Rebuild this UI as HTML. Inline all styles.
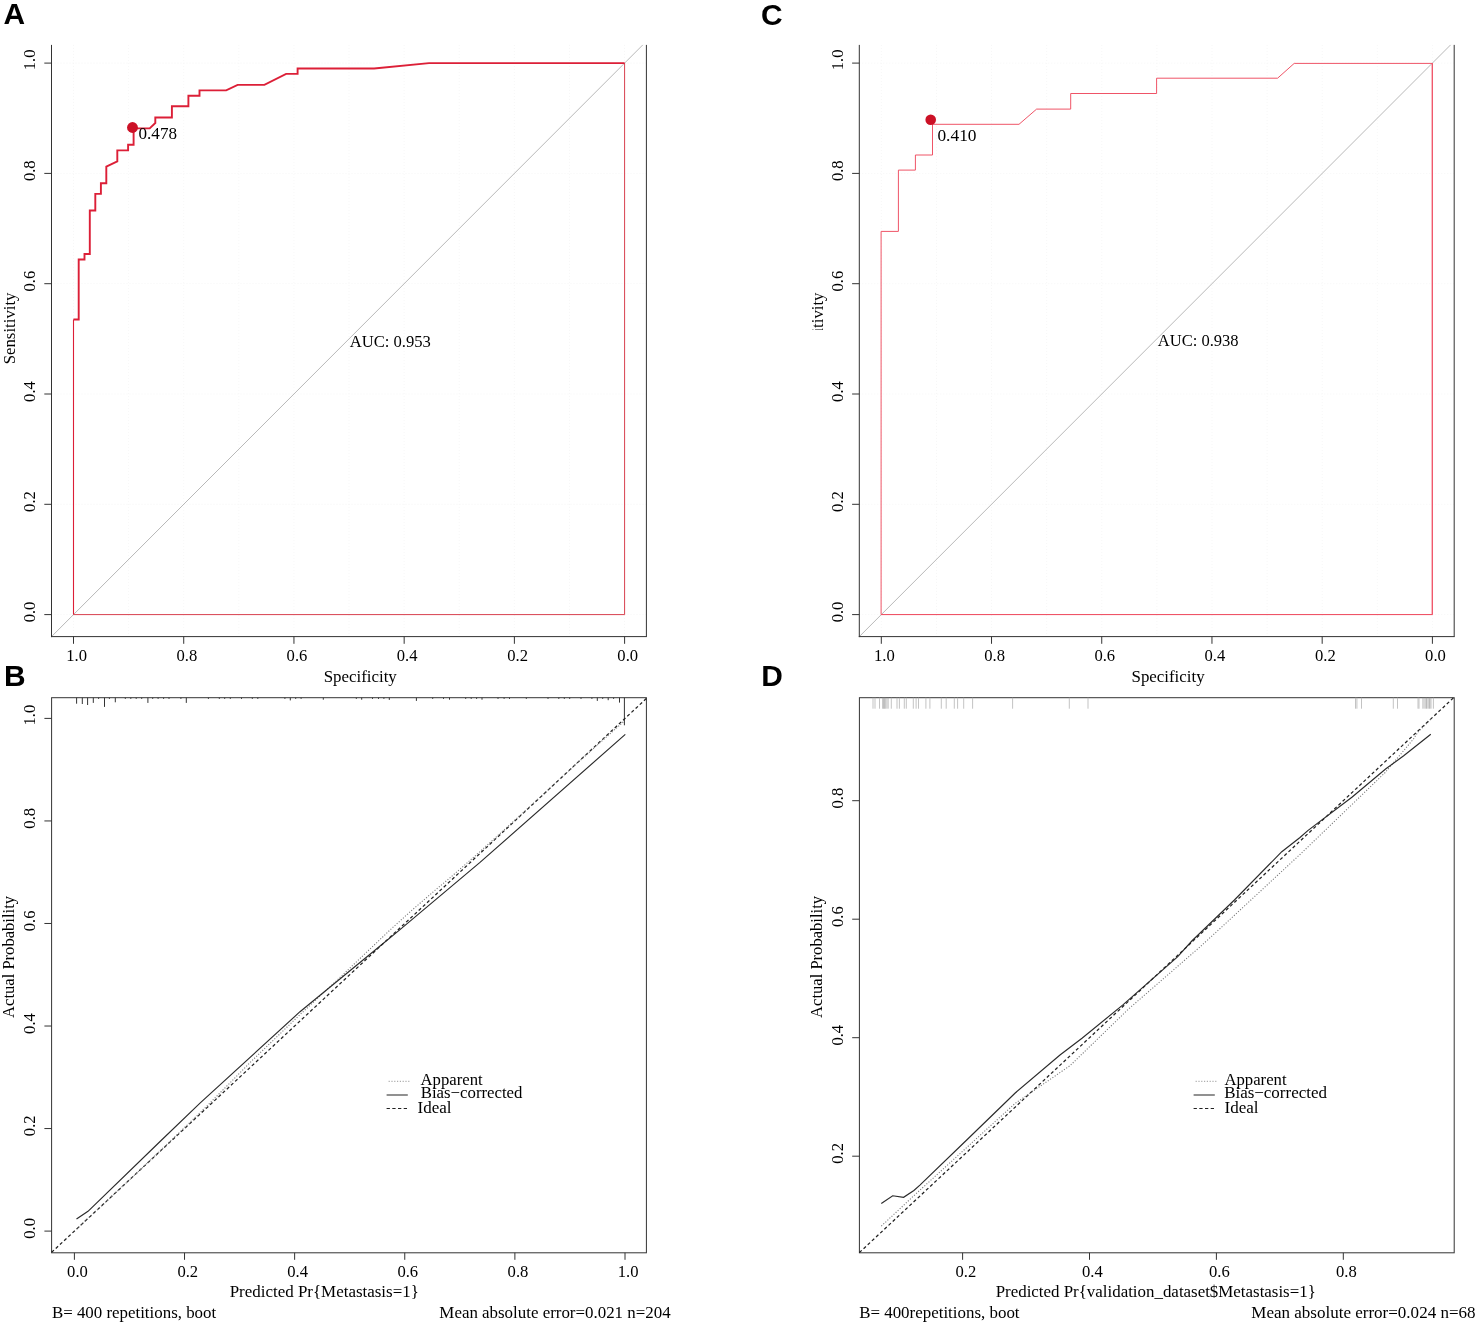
<!DOCTYPE html>
<html><head><meta charset="utf-8"><title>ROC and calibration curves</title><style>html,body{margin:0;padding:0;background:#fff;overflow:hidden}svg{display:block}</style></head><body>
<svg width="1476" height="1322" viewBox="0 0 1476 1322">
<rect x="0" y="0" width="1476" height="1322" fill="#fff"/>
<line x1="73.50" y1="44.90" x2="73.50" y2="636.60" stroke="#f6f6f6" stroke-width="1" stroke-dasharray="1 2"/>
<line x1="128.61" y1="44.90" x2="128.61" y2="636.60" stroke="#f6f6f6" stroke-width="1" stroke-dasharray="1 2"/>
<line x1="183.72" y1="44.90" x2="183.72" y2="636.60" stroke="#f6f6f6" stroke-width="1" stroke-dasharray="1 2"/>
<line x1="238.83" y1="44.90" x2="238.83" y2="636.60" stroke="#f6f6f6" stroke-width="1" stroke-dasharray="1 2"/>
<line x1="293.94" y1="44.90" x2="293.94" y2="636.60" stroke="#f6f6f6" stroke-width="1" stroke-dasharray="1 2"/>
<line x1="349.05" y1="44.90" x2="349.05" y2="636.60" stroke="#f6f6f6" stroke-width="1" stroke-dasharray="1 2"/>
<line x1="404.16" y1="44.90" x2="404.16" y2="636.60" stroke="#f6f6f6" stroke-width="1" stroke-dasharray="1 2"/>
<line x1="459.27" y1="44.90" x2="459.27" y2="636.60" stroke="#f6f6f6" stroke-width="1" stroke-dasharray="1 2"/>
<line x1="514.38" y1="44.90" x2="514.38" y2="636.60" stroke="#f6f6f6" stroke-width="1" stroke-dasharray="1 2"/>
<line x1="569.49" y1="44.90" x2="569.49" y2="636.60" stroke="#f6f6f6" stroke-width="1" stroke-dasharray="1 2"/>
<line x1="624.60" y1="44.90" x2="624.60" y2="636.60" stroke="#f6f6f6" stroke-width="1" stroke-dasharray="1 2"/>
<line x1="51.50" y1="614.60" x2="646.40" y2="614.60" stroke="#f6f6f6" stroke-width="1" stroke-dasharray="1 2"/>
<line x1="51.50" y1="504.30" x2="646.40" y2="504.30" stroke="#f6f6f6" stroke-width="1" stroke-dasharray="1 2"/>
<line x1="51.50" y1="394.00" x2="646.40" y2="394.00" stroke="#f6f6f6" stroke-width="1" stroke-dasharray="1 2"/>
<line x1="51.50" y1="283.70" x2="646.40" y2="283.70" stroke="#f6f6f6" stroke-width="1" stroke-dasharray="1 2"/>
<line x1="51.50" y1="173.40" x2="646.40" y2="173.40" stroke="#f6f6f6" stroke-width="1" stroke-dasharray="1 2"/>
<line x1="51.50" y1="63.10" x2="646.40" y2="63.10" stroke="#f6f6f6" stroke-width="1" stroke-dasharray="1 2"/>
<line x1="51.50" y1="636.62" x2="642.79" y2="44.90" stroke="#b8b8b8" stroke-width="1"/>
<path d="M73.50,614.60 L624.60,614.60 L624.60,63.10" fill="none" stroke="#d8404f" stroke-width="1" stroke-linejoin="miter"/>
<line x1="73.50" y1="614.60" x2="73.50" y2="319.50" stroke="#dc1f37" stroke-width="1.1"/>
<path d="M73.50,319.50 L78.70,319.50 L78.70,259.50 L84.50,259.50 L84.50,254.00 L89.80,254.00 L89.80,210.50 L95.30,210.50 L95.30,193.90 L100.90,193.90 L100.90,183.30 L106.30,183.30 L106.30,166.70 L117.30,161.30 L117.30,150.40 L128.10,150.40 L128.10,144.80 L133.60,144.80 L133.60,128.40 L149.70,128.40 L155.30,123.00 L155.30,117.50 L171.90,117.50 L171.90,106.30 L188.40,106.30 L188.40,95.70 L199.50,95.70 L199.50,90.40 L226.20,90.40 L237.60,84.90 L264.40,84.90 L286.10,73.90 L297.60,73.90 L297.60,68.50 L374.10,68.50 L429.00,63.10 L624.60,63.10" fill="none" stroke="#dc1f37" stroke-width="1.9" stroke-linejoin="miter"/>
<circle cx="132.50" cy="127.50" r="5.45" fill="#cc1126"/>
<line x1="51.50" y1="44.90" x2="51.50" y2="637.10" stroke="#333" stroke-width="1"/>
<line x1="51.00" y1="636.60" x2="646.90" y2="636.60" stroke="#333" stroke-width="1"/>
<line x1="646.40" y1="44.90" x2="646.40" y2="636.60" stroke="#333" stroke-width="1"/>
<line x1="44.30" y1="614.60" x2="51.50" y2="614.60" stroke="#333" stroke-width="1"/>
<text transform="translate(35.00,622.33) rotate(-90)" x="0" y="0" font-size="16.60px" font-family='"Liberation Serif","Times New Roman",serif' fill="#000">0.0</text>
<line x1="44.30" y1="504.30" x2="51.50" y2="504.30" stroke="#333" stroke-width="1"/>
<text transform="translate(35.00,511.88) rotate(-90)" x="0" y="0" font-size="16.60px" font-family='"Liberation Serif","Times New Roman",serif' fill="#000">0.2</text>
<line x1="44.30" y1="394.00" x2="51.50" y2="394.00" stroke="#333" stroke-width="1"/>
<text transform="translate(35.00,401.90) rotate(-90)" x="0" y="0" font-size="16.60px" font-family='"Liberation Serif","Times New Roman",serif' fill="#000">0.4</text>
<line x1="44.30" y1="283.70" x2="51.50" y2="283.70" stroke="#333" stroke-width="1"/>
<text transform="translate(35.00,291.50) rotate(-90)" x="0" y="0" font-size="16.60px" font-family='"Liberation Serif","Times New Roman",serif' fill="#000">0.6</text>
<line x1="44.30" y1="173.40" x2="51.50" y2="173.40" stroke="#333" stroke-width="1"/>
<text transform="translate(35.00,181.12) rotate(-90)" x="0" y="0" font-size="16.60px" font-family='"Liberation Serif","Times New Roman",serif' fill="#000">0.8</text>
<line x1="44.30" y1="63.10" x2="51.50" y2="63.10" stroke="#333" stroke-width="1"/>
<text transform="translate(35.00,70.20) rotate(-90)" x="0" y="0" font-size="16.60px" font-family='"Liberation Serif","Times New Roman",serif' fill="#000">1.0</text>
<line x1="624.60" y1="636.60" x2="624.60" y2="643.80" stroke="#333" stroke-width="1"/>
<text x="617.33" y="661.40" font-size="16.60px" font-family='"Liberation Serif","Times New Roman",serif' fill="#000">0.0</text>
<line x1="514.38" y1="636.60" x2="514.38" y2="643.80" stroke="#333" stroke-width="1"/>
<text x="507.26" y="661.40" font-size="16.60px" font-family='"Liberation Serif","Times New Roman",serif' fill="#000">0.2</text>
<line x1="404.16" y1="636.60" x2="404.16" y2="643.80" stroke="#333" stroke-width="1"/>
<text x="396.71" y="661.40" font-size="16.60px" font-family='"Liberation Serif","Times New Roman",serif' fill="#000">0.4</text>
<line x1="293.94" y1="636.60" x2="293.94" y2="643.80" stroke="#333" stroke-width="1"/>
<text x="286.59" y="661.40" font-size="16.60px" font-family='"Liberation Serif","Times New Roman",serif' fill="#000">0.6</text>
<line x1="183.72" y1="636.60" x2="183.72" y2="643.80" stroke="#333" stroke-width="1"/>
<text x="176.44" y="661.40" font-size="16.60px" font-family='"Liberation Serif","Times New Roman",serif' fill="#000">0.8</text>
<line x1="73.50" y1="636.60" x2="73.50" y2="643.80" stroke="#333" stroke-width="1"/>
<text x="66.20" y="661.40" font-size="16.60px" font-family='"Liberation Serif","Times New Roman",serif' fill="#000">1.0</text>
<text x="323.70" y="681.50" font-size="16.89px" font-family='"Liberation Serif","Times New Roman",serif' fill="#000">Specificity</text>
<text transform="translate(14.80,364.30) rotate(-90)" x="0" y="0" font-size="16.80px" font-family='"Liberation Serif","Times New Roman",serif' fill="#000">Sensitivity</text>
<text x="138.55" y="138.70" font-size="17.08px" font-family='"Liberation Serif","Times New Roman",serif' fill="#000">0.478</text>
<text x="349.65" y="346.80" font-size="16.64px" font-family='"Liberation Serif","Times New Roman",serif' fill="#000">AUC: 0.953</text>
<text x="3.40" y="24.00" font-size="29.90px" font-family='"Liberation Sans",Arial,sans-serif' font-weight="bold" fill="#000">A</text>
<line x1="881.30" y1="44.90" x2="881.30" y2="636.60" stroke="#f6f6f6" stroke-width="1" stroke-dasharray="1 2"/>
<line x1="936.41" y1="44.90" x2="936.41" y2="636.60" stroke="#f6f6f6" stroke-width="1" stroke-dasharray="1 2"/>
<line x1="991.52" y1="44.90" x2="991.52" y2="636.60" stroke="#f6f6f6" stroke-width="1" stroke-dasharray="1 2"/>
<line x1="1046.63" y1="44.90" x2="1046.63" y2="636.60" stroke="#f6f6f6" stroke-width="1" stroke-dasharray="1 2"/>
<line x1="1101.74" y1="44.90" x2="1101.74" y2="636.60" stroke="#f6f6f6" stroke-width="1" stroke-dasharray="1 2"/>
<line x1="1156.85" y1="44.90" x2="1156.85" y2="636.60" stroke="#f6f6f6" stroke-width="1" stroke-dasharray="1 2"/>
<line x1="1211.96" y1="44.90" x2="1211.96" y2="636.60" stroke="#f6f6f6" stroke-width="1" stroke-dasharray="1 2"/>
<line x1="1267.07" y1="44.90" x2="1267.07" y2="636.60" stroke="#f6f6f6" stroke-width="1" stroke-dasharray="1 2"/>
<line x1="1322.18" y1="44.90" x2="1322.18" y2="636.60" stroke="#f6f6f6" stroke-width="1" stroke-dasharray="1 2"/>
<line x1="1377.29" y1="44.90" x2="1377.29" y2="636.60" stroke="#f6f6f6" stroke-width="1" stroke-dasharray="1 2"/>
<line x1="1432.40" y1="44.90" x2="1432.40" y2="636.60" stroke="#f6f6f6" stroke-width="1" stroke-dasharray="1 2"/>
<line x1="859.30" y1="614.60" x2="1454.20" y2="614.60" stroke="#f6f6f6" stroke-width="1" stroke-dasharray="1 2"/>
<line x1="859.30" y1="504.30" x2="1454.20" y2="504.30" stroke="#f6f6f6" stroke-width="1" stroke-dasharray="1 2"/>
<line x1="859.30" y1="394.00" x2="1454.20" y2="394.00" stroke="#f6f6f6" stroke-width="1" stroke-dasharray="1 2"/>
<line x1="859.30" y1="283.70" x2="1454.20" y2="283.70" stroke="#f6f6f6" stroke-width="1" stroke-dasharray="1 2"/>
<line x1="859.30" y1="173.40" x2="1454.20" y2="173.40" stroke="#f6f6f6" stroke-width="1" stroke-dasharray="1 2"/>
<line x1="859.30" y1="63.10" x2="1454.20" y2="63.10" stroke="#f6f6f6" stroke-width="1" stroke-dasharray="1 2"/>
<line x1="859.30" y1="636.62" x2="1450.59" y2="44.90" stroke="#b8b8b8" stroke-width="1"/>
<path d="M881.30,614.60 L1432.40,614.60 L1432.40,63.10" fill="none" stroke="#ef5467" stroke-width="1" stroke-linejoin="miter"/>
<path d="M881.10,614.50 L881.10,231.40 L898.40,231.40 L898.40,170.10 L915.40,170.10 L915.40,155.00 L932.50,155.00 L932.50,124.30 L1019.00,124.30 L1036.60,109.10 L1070.70,109.10 L1070.70,93.50 L1156.60,93.50 L1156.60,78.20 L1277.60,78.20 L1294.20,63.40 L1432.20,63.40 L1432.20,614.50 L881.10,614.50" fill="none" stroke="#ef5467" stroke-width="1" stroke-linejoin="miter"/>
<circle cx="930.70" cy="119.80" r="5.30" fill="#cc1126"/>
<line x1="859.30" y1="44.90" x2="859.30" y2="637.10" stroke="#333" stroke-width="1"/>
<line x1="858.80" y1="636.60" x2="1454.70" y2="636.60" stroke="#333" stroke-width="1"/>
<line x1="1454.20" y1="44.90" x2="1454.20" y2="636.60" stroke="#333" stroke-width="1"/>
<line x1="852.10" y1="614.60" x2="859.30" y2="614.60" stroke="#333" stroke-width="1"/>
<text transform="translate(842.80,622.33) rotate(-90)" x="0" y="0" font-size="16.60px" font-family='"Liberation Serif","Times New Roman",serif' fill="#000">0.0</text>
<line x1="852.10" y1="504.30" x2="859.30" y2="504.30" stroke="#333" stroke-width="1"/>
<text transform="translate(842.80,511.88) rotate(-90)" x="0" y="0" font-size="16.60px" font-family='"Liberation Serif","Times New Roman",serif' fill="#000">0.2</text>
<line x1="852.10" y1="394.00" x2="859.30" y2="394.00" stroke="#333" stroke-width="1"/>
<text transform="translate(842.80,401.90) rotate(-90)" x="0" y="0" font-size="16.60px" font-family='"Liberation Serif","Times New Roman",serif' fill="#000">0.4</text>
<line x1="852.10" y1="283.70" x2="859.30" y2="283.70" stroke="#333" stroke-width="1"/>
<text transform="translate(842.80,291.50) rotate(-90)" x="0" y="0" font-size="16.60px" font-family='"Liberation Serif","Times New Roman",serif' fill="#000">0.6</text>
<line x1="852.10" y1="173.40" x2="859.30" y2="173.40" stroke="#333" stroke-width="1"/>
<text transform="translate(842.80,181.12) rotate(-90)" x="0" y="0" font-size="16.60px" font-family='"Liberation Serif","Times New Roman",serif' fill="#000">0.8</text>
<line x1="852.10" y1="63.10" x2="859.30" y2="63.10" stroke="#333" stroke-width="1"/>
<text transform="translate(842.80,70.20) rotate(-90)" x="0" y="0" font-size="16.60px" font-family='"Liberation Serif","Times New Roman",serif' fill="#000">1.0</text>
<line x1="1432.40" y1="636.60" x2="1432.40" y2="643.80" stroke="#333" stroke-width="1"/>
<text x="1425.12" y="661.40" font-size="16.60px" font-family='"Liberation Serif","Times New Roman",serif' fill="#000">0.0</text>
<line x1="1322.18" y1="636.60" x2="1322.18" y2="643.80" stroke="#333" stroke-width="1"/>
<text x="1315.06" y="661.40" font-size="16.60px" font-family='"Liberation Serif","Times New Roman",serif' fill="#000">0.2</text>
<line x1="1211.96" y1="636.60" x2="1211.96" y2="643.80" stroke="#333" stroke-width="1"/>
<text x="1204.51" y="661.40" font-size="16.60px" font-family='"Liberation Serif","Times New Roman",serif' fill="#000">0.4</text>
<line x1="1101.74" y1="636.60" x2="1101.74" y2="643.80" stroke="#333" stroke-width="1"/>
<text x="1094.39" y="661.40" font-size="16.60px" font-family='"Liberation Serif","Times New Roman",serif' fill="#000">0.6</text>
<line x1="991.52" y1="636.60" x2="991.52" y2="643.80" stroke="#333" stroke-width="1"/>
<text x="984.25" y="661.40" font-size="16.60px" font-family='"Liberation Serif","Times New Roman",serif' fill="#000">0.8</text>
<line x1="881.30" y1="636.60" x2="881.30" y2="643.80" stroke="#333" stroke-width="1"/>
<text x="874.00" y="661.40" font-size="16.60px" font-family='"Liberation Serif","Times New Roman",serif' fill="#000">1.0</text>
<text x="1131.50" y="681.50" font-size="16.89px" font-family='"Liberation Serif","Times New Roman",serif' fill="#000">Specificity</text>
<clipPath id="csC"><rect x="807.8" y="0" width="50" height="330"/></clipPath>
<g clip-path="url(#csC)">
<text transform="translate(822.60,364.30) rotate(-90)" x="0" y="0" font-size="16.80px" font-family='"Liberation Serif","Times New Roman",serif' fill="#000">Sensitivity</text>
</g>
<text x="937.45" y="140.60" font-size="17.36px" font-family='"Liberation Serif","Times New Roman",serif' fill="#000">0.410</text>
<text x="1157.75" y="346.40" font-size="16.54px" font-family='"Liberation Serif","Times New Roman",serif' fill="#000">AUC: 0.938</text>
<text x="761.10" y="24.70" font-size="29.90px" font-family='"Liberation Sans",Arial,sans-serif' font-weight="bold" fill="#000">C</text>
<rect x="51.60" y="697.70" width="594.80" height="555.10" fill="none" stroke="#333" stroke-width="1"/>
<line x1="76.60" y1="697.70" x2="76.60" y2="703.70" stroke="#333" stroke-width="1"/>
<line x1="82.30" y1="697.70" x2="82.30" y2="704.00" stroke="#333" stroke-width="1"/>
<line x1="87.60" y1="697.70" x2="87.60" y2="705.00" stroke="#333" stroke-width="1"/>
<line x1="93.30" y1="697.70" x2="93.30" y2="702.90" stroke="#333" stroke-width="1"/>
<line x1="98.60" y1="697.70" x2="98.60" y2="698.90" stroke="#333" stroke-width="1"/>
<line x1="104.50" y1="697.70" x2="104.50" y2="706.90" stroke="#333" stroke-width="1"/>
<line x1="109.40" y1="697.70" x2="109.40" y2="698.90" stroke="#333" stroke-width="1"/>
<line x1="115.30" y1="697.70" x2="115.30" y2="702.30" stroke="#333" stroke-width="1"/>
<line x1="125.30" y1="697.70" x2="125.30" y2="698.90" stroke="#333" stroke-width="1"/>
<line x1="130.80" y1="697.70" x2="130.80" y2="698.90" stroke="#333" stroke-width="1"/>
<line x1="136.20" y1="697.70" x2="136.20" y2="698.90" stroke="#333" stroke-width="1"/>
<line x1="141.70" y1="697.70" x2="141.70" y2="698.90" stroke="#333" stroke-width="1"/>
<line x1="147.90" y1="697.70" x2="147.90" y2="702.90" stroke="#333" stroke-width="1"/>
<line x1="152.70" y1="697.70" x2="152.70" y2="698.90" stroke="#333" stroke-width="1"/>
<line x1="158.10" y1="697.70" x2="158.10" y2="698.90" stroke="#333" stroke-width="1"/>
<line x1="163.60" y1="697.70" x2="163.60" y2="698.90" stroke="#333" stroke-width="1"/>
<line x1="169.00" y1="697.70" x2="169.00" y2="698.90" stroke="#333" stroke-width="1"/>
<line x1="180.90" y1="697.70" x2="180.90" y2="698.90" stroke="#333" stroke-width="1"/>
<line x1="186.30" y1="697.70" x2="186.30" y2="702.90" stroke="#333" stroke-width="1"/>
<line x1="208.40" y1="697.70" x2="208.40" y2="698.90" stroke="#333" stroke-width="1"/>
<line x1="219.30" y1="697.70" x2="219.30" y2="698.90" stroke="#333" stroke-width="1"/>
<line x1="224.70" y1="697.70" x2="224.70" y2="698.90" stroke="#333" stroke-width="1"/>
<line x1="230.30" y1="697.70" x2="230.30" y2="698.90" stroke="#333" stroke-width="1"/>
<line x1="241.50" y1="697.70" x2="241.50" y2="698.90" stroke="#333" stroke-width="1"/>
<line x1="252.30" y1="697.70" x2="252.30" y2="698.90" stroke="#333" stroke-width="1"/>
<line x1="257.80" y1="697.70" x2="257.80" y2="698.90" stroke="#333" stroke-width="1"/>
<line x1="284.90" y1="697.70" x2="284.90" y2="698.90" stroke="#333" stroke-width="1"/>
<line x1="290.30" y1="697.70" x2="290.30" y2="700.40" stroke="#333" stroke-width="1"/>
<line x1="295.70" y1="697.70" x2="295.70" y2="698.90" stroke="#333" stroke-width="1"/>
<line x1="301.10" y1="697.70" x2="301.10" y2="698.90" stroke="#333" stroke-width="1"/>
<line x1="323.30" y1="697.70" x2="323.30" y2="699.70" stroke="#333" stroke-width="1"/>
<line x1="356.30" y1="697.70" x2="356.30" y2="698.90" stroke="#333" stroke-width="1"/>
<line x1="361.70" y1="697.70" x2="361.70" y2="699.70" stroke="#333" stroke-width="1"/>
<line x1="372.50" y1="697.70" x2="372.50" y2="698.90" stroke="#333" stroke-width="1"/>
<line x1="378.50" y1="697.70" x2="378.50" y2="698.90" stroke="#333" stroke-width="1"/>
<line x1="383.90" y1="697.70" x2="383.90" y2="698.90" stroke="#333" stroke-width="1"/>
<line x1="389.30" y1="697.70" x2="389.30" y2="699.90" stroke="#333" stroke-width="1"/>
<line x1="416.40" y1="697.70" x2="416.40" y2="700.90" stroke="#333" stroke-width="1"/>
<line x1="432.70" y1="697.70" x2="432.70" y2="698.90" stroke="#333" stroke-width="1"/>
<line x1="443.50" y1="697.70" x2="443.50" y2="698.90" stroke="#333" stroke-width="1"/>
<line x1="449.50" y1="697.70" x2="449.50" y2="699.70" stroke="#333" stroke-width="1"/>
<line x1="465.70" y1="697.70" x2="465.70" y2="698.90" stroke="#333" stroke-width="1"/>
<line x1="471.20" y1="697.70" x2="471.20" y2="698.90" stroke="#333" stroke-width="1"/>
<line x1="476.60" y1="697.70" x2="476.60" y2="698.90" stroke="#333" stroke-width="1"/>
<line x1="482.00" y1="697.70" x2="482.00" y2="699.70" stroke="#333" stroke-width="1"/>
<line x1="498.00" y1="697.70" x2="498.00" y2="698.90" stroke="#333" stroke-width="1"/>
<line x1="504.10" y1="697.70" x2="504.10" y2="698.90" stroke="#333" stroke-width="1"/>
<line x1="509.50" y1="697.70" x2="509.50" y2="698.90" stroke="#333" stroke-width="1"/>
<line x1="526.30" y1="697.70" x2="526.30" y2="698.90" stroke="#333" stroke-width="1"/>
<line x1="548.00" y1="697.70" x2="548.00" y2="698.90" stroke="#333" stroke-width="1"/>
<line x1="558.80" y1="697.70" x2="558.80" y2="698.90" stroke="#333" stroke-width="1"/>
<line x1="564.30" y1="697.70" x2="564.30" y2="698.90" stroke="#333" stroke-width="1"/>
<line x1="569.70" y1="697.70" x2="569.70" y2="698.90" stroke="#333" stroke-width="1"/>
<line x1="581.00" y1="697.70" x2="581.00" y2="698.90" stroke="#333" stroke-width="1"/>
<line x1="591.90" y1="697.70" x2="591.90" y2="698.90" stroke="#333" stroke-width="1"/>
<line x1="597.30" y1="697.70" x2="597.30" y2="700.90" stroke="#333" stroke-width="1"/>
<line x1="602.70" y1="697.70" x2="602.70" y2="698.90" stroke="#333" stroke-width="1"/>
<line x1="608.20" y1="697.70" x2="608.20" y2="700.20" stroke="#333" stroke-width="1"/>
<line x1="613.60" y1="697.70" x2="613.60" y2="698.90" stroke="#333" stroke-width="1"/>
<line x1="619.50" y1="697.70" x2="619.50" y2="702.60" stroke="#333" stroke-width="1"/>
<line x1="624.40" y1="697.70" x2="624.40" y2="725.30" stroke="#333" stroke-width="1"/>
<line x1="51.60" y1="1252.33" x2="646.40" y2="698.47" stroke="#222" stroke-width="1.25" stroke-dasharray="3.2 2.5"/>
<path d="M76.50,1229.14 L140.00,1170.02 L180.00,1131.97 L210.00,1103.03 L250.00,1062.59 L300.00,1014.63 L340.00,977.48 L390.00,930.02 L412.00,910.14 L435.00,890.32 L449.00,878.69 L475.00,856.07 L500.00,833.60 L550.00,788.24 L575.00,764.96 L600.00,742.68 L624.40,720.96" fill="none" stroke="#7a7a7a" stroke-width="1.1" stroke-linejoin="miter" stroke-dasharray="1.1 1.7"/>
<path d="M76.50,1219.10 L88.00,1211.30 L161.10,1140.50 L200.00,1103.20 L300.00,1011.70 L381.30,945.00 L400.00,929.60 L480.00,862.40 L625.30,734.40" fill="none" stroke="#2a2a2a" stroke-width="1.15" stroke-linejoin="miter"/>
<line x1="74.40" y1="1252.80" x2="74.40" y2="1259.80" stroke="#333" stroke-width="1"/>
<text x="67.12" y="1277.40" font-size="16.60px" font-family='"Liberation Serif","Times New Roman",serif' fill="#000">0.0</text>
<line x1="184.52" y1="1252.80" x2="184.52" y2="1259.80" stroke="#333" stroke-width="1"/>
<text x="177.40" y="1277.40" font-size="16.60px" font-family='"Liberation Serif","Times New Roman",serif' fill="#000">0.2</text>
<line x1="294.64" y1="1252.80" x2="294.64" y2="1259.80" stroke="#333" stroke-width="1"/>
<text x="287.19" y="1277.40" font-size="16.60px" font-family='"Liberation Serif","Times New Roman",serif' fill="#000">0.4</text>
<line x1="404.76" y1="1252.80" x2="404.76" y2="1259.80" stroke="#333" stroke-width="1"/>
<text x="397.41" y="1277.40" font-size="16.60px" font-family='"Liberation Serif","Times New Roman",serif' fill="#000">0.6</text>
<line x1="514.88" y1="1252.80" x2="514.88" y2="1259.80" stroke="#333" stroke-width="1"/>
<text x="507.61" y="1277.40" font-size="16.60px" font-family='"Liberation Serif","Times New Roman",serif' fill="#000">0.8</text>
<line x1="625.00" y1="1252.80" x2="625.00" y2="1259.80" stroke="#333" stroke-width="1"/>
<text x="617.70" y="1277.40" font-size="16.60px" font-family='"Liberation Serif","Times New Roman",serif' fill="#000">1.0</text>
<line x1="44.40" y1="1231.10" x2="51.60" y2="1231.10" stroke="#333" stroke-width="1"/>
<text transform="translate(35.00,1238.82) rotate(-90)" x="0" y="0" font-size="16.60px" font-family='"Liberation Serif","Times New Roman",serif' fill="#000">0.0</text>
<line x1="44.40" y1="1128.56" x2="51.60" y2="1128.56" stroke="#333" stroke-width="1"/>
<text transform="translate(35.00,1136.13) rotate(-90)" x="0" y="0" font-size="16.60px" font-family='"Liberation Serif","Times New Roman",serif' fill="#000">0.2</text>
<line x1="44.40" y1="1026.02" x2="51.60" y2="1026.02" stroke="#333" stroke-width="1"/>
<text transform="translate(35.00,1033.92) rotate(-90)" x="0" y="0" font-size="16.60px" font-family='"Liberation Serif","Times New Roman",serif' fill="#000">0.4</text>
<line x1="44.40" y1="923.48" x2="51.60" y2="923.48" stroke="#333" stroke-width="1"/>
<text transform="translate(35.00,931.28) rotate(-90)" x="0" y="0" font-size="16.60px" font-family='"Liberation Serif","Times New Roman",serif' fill="#000">0.6</text>
<line x1="44.40" y1="820.94" x2="51.60" y2="820.94" stroke="#333" stroke-width="1"/>
<text transform="translate(35.00,828.66) rotate(-90)" x="0" y="0" font-size="16.60px" font-family='"Liberation Serif","Times New Roman",serif' fill="#000">0.8</text>
<line x1="44.40" y1="718.40" x2="51.60" y2="718.40" stroke="#333" stroke-width="1"/>
<text transform="translate(35.00,725.50) rotate(-90)" x="0" y="0" font-size="16.60px" font-family='"Liberation Serif","Times New Roman",serif' fill="#000">1.0</text>
<text transform="translate(14.30,1017.95) rotate(-90)" x="0" y="0" font-size="16.59px" font-family='"Liberation Serif","Times New Roman",serif' fill="#000">Actual Probability</text>
<text x="229.65" y="1297.40" font-size="16.97px" font-family='"Liberation Serif","Times New Roman",serif' fill="#000">Predicted Pr{Metastasis=1}</text>
<text x="51.95" y="1317.60" font-size="16.89px" font-family='"Liberation Serif","Times New Roman",serif' fill="#000">B= 400 repetitions, boot</text>
<text x="439.35" y="1317.60" font-size="16.92px" font-family='"Liberation Serif","Times New Roman",serif' fill="#000">Mean absolute error=0.021 n=204</text>
<text x="420.55" y="1085.30" font-size="16.69px" font-family='"Liberation Serif","Times New Roman",serif' fill="#000">Apparent</text>
<text x="420.75" y="1098.40" font-size="16.79px" font-family='"Liberation Serif","Times New Roman",serif' fill="#000">Bias−corrected</text>
<text x="417.50" y="1112.60" font-size="16.99px" font-family='"Liberation Serif","Times New Roman",serif' fill="#000">Ideal</text>
<line x1="388.60" y1="1081.30" x2="409.60" y2="1081.30" stroke="#999" stroke-width="1" stroke-dasharray="1.2 1.6"/>
<line x1="386.60" y1="1095.00" x2="407.80" y2="1095.00" stroke="#555" stroke-width="1.3"/>
<line x1="386.60" y1="1108.50" x2="407.10" y2="1108.50" stroke="#222" stroke-width="1" stroke-dasharray="3.3 2.4"/>
<text x="3.90" y="686.20" font-size="29.90px" font-family='"Liberation Sans",Arial,sans-serif' font-weight="bold" fill="#000">B</text>
<rect x="859.40" y="697.70" width="594.80" height="555.10" fill="none" stroke="#333" stroke-width="1"/>
<line x1="873.00" y1="697.70" x2="873.00" y2="708.70" stroke="#b4b4b4" stroke-width="0.8"/>
<line x1="875.00" y1="697.70" x2="875.00" y2="708.70" stroke="#b4b4b4" stroke-width="0.8"/>
<line x1="879.50" y1="697.70" x2="879.50" y2="708.70" stroke="#b4b4b4" stroke-width="0.8"/>
<line x1="882.80" y1="697.70" x2="882.80" y2="708.70" stroke="#a0a0a0" stroke-width="0.8"/>
<line x1="883.80" y1="697.70" x2="883.80" y2="708.70" stroke="#a0a0a0" stroke-width="0.8"/>
<line x1="884.80" y1="697.70" x2="884.80" y2="708.70" stroke="#a0a0a0" stroke-width="0.8"/>
<line x1="886.00" y1="697.70" x2="886.00" y2="708.70" stroke="#a0a0a0" stroke-width="0.8"/>
<line x1="888.00" y1="697.70" x2="888.00" y2="708.70" stroke="#a0a0a0" stroke-width="0.8"/>
<line x1="891.30" y1="697.70" x2="891.30" y2="708.70" stroke="#b4b4b4" stroke-width="0.8"/>
<line x1="897.00" y1="697.70" x2="897.00" y2="708.70" stroke="#b4b4b4" stroke-width="0.8"/>
<line x1="899.40" y1="697.70" x2="899.40" y2="708.70" stroke="#b4b4b4" stroke-width="0.8"/>
<line x1="904.30" y1="697.70" x2="904.30" y2="708.70" stroke="#b4b4b4" stroke-width="0.8"/>
<line x1="906.30" y1="697.70" x2="906.30" y2="708.70" stroke="#b4b4b4" stroke-width="0.8"/>
<line x1="913.30" y1="697.70" x2="913.30" y2="708.70" stroke="#b4b4b4" stroke-width="0.8"/>
<line x1="916.10" y1="697.70" x2="916.10" y2="708.70" stroke="#b4b4b4" stroke-width="0.8"/>
<line x1="918.50" y1="697.70" x2="918.50" y2="708.70" stroke="#b4b4b4" stroke-width="0.8"/>
<line x1="925.90" y1="697.70" x2="925.90" y2="708.70" stroke="#b4b4b4" stroke-width="0.8"/>
<line x1="929.90" y1="697.70" x2="929.90" y2="708.70" stroke="#b4b4b4" stroke-width="0.8"/>
<line x1="941.30" y1="697.70" x2="941.30" y2="708.70" stroke="#b4b4b4" stroke-width="0.8"/>
<line x1="946.20" y1="697.70" x2="946.20" y2="708.70" stroke="#b4b4b4" stroke-width="0.8"/>
<line x1="954.30" y1="697.70" x2="954.30" y2="708.70" stroke="#b4b4b4" stroke-width="0.8"/>
<line x1="957.60" y1="697.70" x2="957.60" y2="708.70" stroke="#b4b4b4" stroke-width="0.8"/>
<line x1="963.70" y1="697.70" x2="963.70" y2="708.70" stroke="#b4b4b4" stroke-width="0.8"/>
<line x1="972.60" y1="697.70" x2="972.60" y2="708.70" stroke="#b4b4b4" stroke-width="0.8"/>
<line x1="1012.60" y1="697.70" x2="1012.60" y2="708.70" stroke="#b4b4b4" stroke-width="0.8"/>
<line x1="1069.30" y1="697.70" x2="1069.30" y2="708.70" stroke="#b4b4b4" stroke-width="0.8"/>
<line x1="1088.00" y1="697.70" x2="1088.00" y2="708.70" stroke="#b4b4b4" stroke-width="0.8"/>
<line x1="1355.50" y1="697.70" x2="1355.50" y2="708.70" stroke="#b4b4b4" stroke-width="0.8"/>
<line x1="1356.90" y1="697.70" x2="1356.90" y2="708.70" stroke="#b4b4b4" stroke-width="0.8"/>
<line x1="1361.50" y1="697.70" x2="1361.50" y2="708.70" stroke="#b4b4b4" stroke-width="0.8"/>
<line x1="1393.30" y1="697.70" x2="1393.30" y2="708.70" stroke="#b4b4b4" stroke-width="0.8"/>
<line x1="1397.50" y1="697.70" x2="1397.50" y2="708.70" stroke="#b4b4b4" stroke-width="0.8"/>
<line x1="1418.00" y1="697.70" x2="1418.00" y2="708.70" stroke="#b4b4b4" stroke-width="0.8"/>
<line x1="1419.00" y1="697.70" x2="1419.00" y2="708.70" stroke="#b4b4b4" stroke-width="0.8"/>
<line x1="1423.00" y1="697.70" x2="1423.00" y2="708.70" stroke="#a0a0a0" stroke-width="0.8"/>
<line x1="1425.00" y1="697.70" x2="1425.00" y2="708.70" stroke="#a0a0a0" stroke-width="0.8"/>
<line x1="1426.40" y1="697.70" x2="1426.40" y2="708.70" stroke="#a0a0a0" stroke-width="0.8"/>
<line x1="1428.00" y1="697.70" x2="1428.00" y2="708.70" stroke="#a0a0a0" stroke-width="0.8"/>
<line x1="1429.40" y1="697.70" x2="1429.40" y2="708.70" stroke="#a0a0a0" stroke-width="0.8"/>
<line x1="1430.90" y1="697.70" x2="1430.90" y2="708.70" stroke="#a0a0a0" stroke-width="0.8"/>
<line x1="1433.40" y1="697.70" x2="1433.40" y2="708.70" stroke="#b4b4b4" stroke-width="0.8"/>
<line x1="859.40" y1="1252.57" x2="1453.60" y2="697.70" stroke="#222" stroke-width="1.25" stroke-dasharray="3.2 2.5"/>
<path d="M881.30,1226.10 L915.40,1194.30 L1015.00,1103.50 L1070.00,1065.70 L1128.80,1008.80 L1200.00,946.90 L1230.00,919.40 L1300.00,854.50 L1384.70,773.00 L1402.30,752.30 L1413.30,739.20 L1418.00,732.00 L1431.00,719.00" fill="none" stroke="#7a7a7a" stroke-width="1.1" stroke-linejoin="miter" stroke-dasharray="1.1 1.7"/>
<path d="M881.30,1203.40 L892.70,1195.80 L903.60,1197.30 L913.90,1190.50 L919.90,1185.20 L966.70,1140.00 L1015.20,1093.00 L1060.00,1055.00 L1082.00,1038.20 L1122.90,1004.90 L1177.50,956.90 L1191.80,941.00 L1234.40,900.00 L1281.80,851.70 L1300.00,837.50 L1307.80,830.60 L1351.90,797.30 L1385.90,768.80 L1403.70,755.80 L1430.80,734.30" fill="none" stroke="#2a2a2a" stroke-width="1.15" stroke-linejoin="miter"/>
<line x1="962.60" y1="1252.80" x2="962.60" y2="1259.80" stroke="#333" stroke-width="1"/>
<text x="955.48" y="1277.40" font-size="16.60px" font-family='"Liberation Serif","Times New Roman",serif' fill="#000">0.2</text>
<line x1="1089.50" y1="1252.80" x2="1089.50" y2="1259.80" stroke="#333" stroke-width="1"/>
<text x="1082.05" y="1277.40" font-size="16.60px" font-family='"Liberation Serif","Times New Roman",serif' fill="#000">0.4</text>
<line x1="1216.40" y1="1252.80" x2="1216.40" y2="1259.80" stroke="#333" stroke-width="1"/>
<text x="1209.05" y="1277.40" font-size="16.60px" font-family='"Liberation Serif","Times New Roman",serif' fill="#000">0.6</text>
<line x1="1343.30" y1="1252.80" x2="1343.30" y2="1259.80" stroke="#333" stroke-width="1"/>
<text x="1336.03" y="1277.40" font-size="16.60px" font-family='"Liberation Serif","Times New Roman",serif' fill="#000">0.8</text>
<line x1="852.20" y1="1156.20" x2="859.40" y2="1156.20" stroke="#333" stroke-width="1"/>
<text transform="translate(842.80,1163.77) rotate(-90)" x="0" y="0" font-size="16.60px" font-family='"Liberation Serif","Times New Roman",serif' fill="#000">0.2</text>
<line x1="852.20" y1="1037.70" x2="859.40" y2="1037.70" stroke="#333" stroke-width="1"/>
<text transform="translate(842.80,1045.60) rotate(-90)" x="0" y="0" font-size="16.60px" font-family='"Liberation Serif","Times New Roman",serif' fill="#000">0.4</text>
<line x1="852.20" y1="919.20" x2="859.40" y2="919.20" stroke="#333" stroke-width="1"/>
<text transform="translate(842.80,927.00) rotate(-90)" x="0" y="0" font-size="16.60px" font-family='"Liberation Serif","Times New Roman",serif' fill="#000">0.6</text>
<line x1="852.20" y1="800.70" x2="859.40" y2="800.70" stroke="#333" stroke-width="1"/>
<text transform="translate(842.80,808.43) rotate(-90)" x="0" y="0" font-size="16.60px" font-family='"Liberation Serif","Times New Roman",serif' fill="#000">0.8</text>
<text transform="translate(822.10,1017.95) rotate(-90)" x="0" y="0" font-size="16.59px" font-family='"Liberation Serif","Times New Roman",serif' fill="#000">Actual Probability</text>
<text x="995.65" y="1297.40" font-size="16.91px" font-family='"Liberation Serif","Times New Roman",serif' fill="#000">Predicted Pr{validation_dataset$Metastasis=1}</text>
<text x="859.15" y="1317.60" font-size="16.93px" font-family='"Liberation Serif","Times New Roman",serif' fill="#000">B= 400repetitions, boot</text>
<text x="1251.25" y="1317.60" font-size="17.02px" font-family='"Liberation Serif","Times New Roman",serif' fill="#000">Mean absolute error=0.024 n=68</text>
<text x="1224.45" y="1084.50" font-size="16.72px" font-family='"Liberation Serif","Times New Roman",serif' fill="#000">Apparent</text>
<text x="1224.15" y="1097.60" font-size="16.97px" font-family='"Liberation Serif","Times New Roman",serif' fill="#000">Bias−corrected</text>
<text x="1224.50" y="1112.60" font-size="17.04px" font-family='"Liberation Serif","Times New Roman",serif' fill="#000">Ideal</text>
<line x1="1195.60" y1="1081.30" x2="1216.60" y2="1081.30" stroke="#999" stroke-width="1" stroke-dasharray="1.2 1.6"/>
<line x1="1193.60" y1="1095.00" x2="1214.80" y2="1095.00" stroke="#555" stroke-width="1.3"/>
<line x1="1193.60" y1="1108.50" x2="1214.10" y2="1108.50" stroke="#222" stroke-width="1" stroke-dasharray="3.3 2.4"/>
<text x="761.20" y="686.30" font-size="29.90px" font-family='"Liberation Sans",Arial,sans-serif' font-weight="bold" fill="#000">D</text>
</svg></body></html>
